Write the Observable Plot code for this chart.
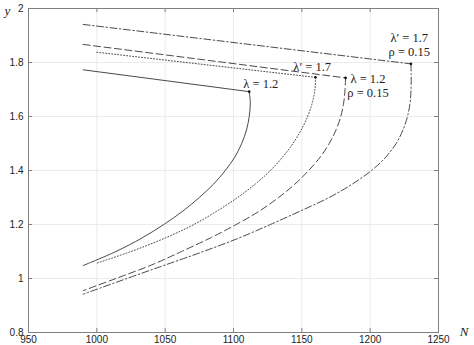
<!DOCTYPE html>
<html>
<head>
<meta charset="utf-8">
<script src="https://cdn.jsdelivr.net/npm/d3@7"></script>
<script src="https://cdn.jsdelivr.net/npm/@observablehq/plot@0.6"></script>
<style>
  html, body { margin: 0; padding: 0; background: #fff; }
  #chart { width: 474px; height: 345px; }
</style>
</head>
<body>
<div id="chart"></div>
<script>
// Axis ticks
const xTicks = [950, 1000, 1050, 1100, 1150, 1200, 1250];
const yTicks = [0.8, 1, 1.2, 1.4, 1.6, 1.8, 2];

// Series 1: λ = 1.2 (solid)
const s1UpperN = [990, 1111.5];
const s1UpperY = [1.773, 1.692];
const s1LowerN = [1111.5, 1112.3, 1111.5, 1109.5, 1106, 1101, 1094, 1085.5, 1075, 1063, 1049, 1033, 1014, 990];
const s1LowerY = [1.692, 1.65, 1.60, 1.55, 1.50, 1.45, 1.40, 1.35, 1.30, 1.25, 1.20, 1.15, 1.10, 1.048];

// Series 2: λ′ = 1.7 (dotted)
const s2UpperN = [1000, 1160];
const s2UpperY = [1.838, 1.745];
const s2LowerN = [1160, 1159.6, 1157.6, 1154.2, 1149.5, 1143.5, 1136, 1127, 1116, 1103, 1088, 1071, 1050, 1025, 1000];
const s2LowerY = [1.745, 1.70, 1.65, 1.60, 1.55, 1.50, 1.45, 1.40, 1.35, 1.30, 1.25, 1.20, 1.15, 1.10, 1.057];

// Series 3: λ = 1.2, ρ = 0.15 (dashed)
const s3UpperN = [990, 1182];
const s3UpperY = [1.867, 1.743];
const s3LowerN = [1182, 1181.6, 1180.6, 1178.5, 1175, 1170, 1163.5, 1155, 1145, 1133, 1119, 1102, 1083, 1062, 1040, 1014, 990];
const s3LowerY = [1.743, 1.70, 1.65, 1.60, 1.55, 1.50, 1.45, 1.40, 1.35, 1.30, 1.25, 1.20, 1.15, 1.10, 1.05, 1.00, 0.955];

// Series 4: λ′ = 1.7, ρ = 0.15 (dash-dot)
const s4UpperN = [990, 1229.8];
const s4UpperY = [1.941, 1.795];
const s4LowerN = [1229.8, 1230, 1229.9, 1229.2, 1227.3, 1224, 1219, 1211.5, 1201, 1187, 1170, 1149, 1127, 1104, 1078, 1050, 1022, 990];
const s4LowerY = [1.795, 1.758, 1.70, 1.65, 1.60, 1.55, 1.50, 1.45, 1.40, 1.35, 1.30, 1.25, 1.20, 1.15, 1.10, 1.05, 1.00, 0.942];

// Annotation labels
const labelText = ["λ = 1.2", "λ′ = 1.7", "λ = 1.2", "ρ = 0.15", "λ′ = 1.7", "ρ = 0.15"];
const labelN = [1120, 1157.6, 1198.4, 1198.4, 1228.6, 1228.6];
const labelY = [1.722, 1.785, 1.739, 1.687, 1.891, 1.839];

const zip = (xs, ys) => xs.map((x, i) => ({x, y: ys[i]}));

const series = [
  {upper: zip(s1UpperN, s1UpperY), lower: zip(s1LowerN, s1LowerY), dash: null},
  {upper: zip(s2UpperN, s2UpperY), lower: zip(s2LowerN, s2LowerY), dash: "1,2"},
  {upper: zip(s3UpperN, s3UpperY), lower: zip(s3LowerN, s3LowerY), dash: "7,3.5"},
  {upper: zip(s4UpperN, s4UpperY), lower: zip(s4LowerN, s4LowerY), dash: "7,2.5,1.5,2.5"}
];

const tips = series.map(s => s.upper[s.upper.length - 1]);
const labels = labelText.map((t, i) => ({t, x: labelN[i], y: labelY[i]}));

const W = 474, H = 345;
const mL = 28, mR = 36, mT = 8, mB = 13;
const pw = W - mL - mR, ph = H - mT - mB;
const lineColor = "#4a4a4a";

const marks = [
  Plot.gridX(xTicks, {stroke: "#ebebeb", strokeOpacity: 1}),
  Plot.gridY(yTicks, {stroke: "#ebebeb", strokeOpacity: 1}),
  Plot.frame({stroke: "#808080"}),
  // inward ticks on all four sides
  Plot.tickX(xTicks, {x: d => d, insetTop: ph - 4, stroke: "#808080"}),
  Plot.tickX(xTicks, {x: d => d, insetBottom: ph - 4, stroke: "#808080"}),
  Plot.tickY(yTicks, {y: d => d, insetRight: pw - 4, stroke: "#808080"}),
  Plot.tickY(yTicks, {y: d => d, insetLeft: pw - 4, stroke: "#808080"}),
  Plot.axisX(xTicks, {tickSize: 0, tickPadding: 3, tickFormat: d => String(d), label: null, fill: "#222", fontSize: 10}),
  Plot.axisY(yTicks, {tickSize: 0, tickPadding: 5, tickFormat: d => String(d), label: null, fill: "#222", fontSize: 10})
];

for (const s of series) {
  const opts = {x: "x", y: "y", stroke: lineColor, strokeWidth: 1};
  if (s.dash) opts.strokeDasharray = s.dash;
  marks.push(Plot.line(s.upper, {...opts}));
  marks.push(Plot.line(s.lower, {...opts, curve: "catmull-rom"}));
}

marks.push(Plot.dot(tips, {x: "x", y: "y", r: 1.3, fill: "#111", stroke: null}));
marks.push(Plot.text(labels, {x: "x", y: "y", text: "t", fontFamily: "Liberation Serif", fontSize: 12.5, fill: "#222"}));
marks.push(Plot.text(["y"], {text: d => d, frameAnchor: "top-left", dx: -24, dy: -3, fontFamily: "Liberation Serif", fontStyle: "italic", fontSize: 13, fill: "#222"}));
marks.push(Plot.text(["N"], {text: d => d, frameAnchor: "bottom-right", dx: 30, dy: 3, fontFamily: "Liberation Serif", fontStyle: "italic", fontSize: 13, fill: "#222"}));

const chart = Plot.plot({
  width: W,
  height: H,
  marginLeft: mL,
  marginRight: mR,
  marginTop: mT,
  marginBottom: mB,
  x: {domain: [950, 1250], label: null},
  y: {domain: [0.8, 2], label: null},
  style: {fontFamily: "Liberation Sans", fontSize: "10px", background: "#fff", overflow: "visible"},
  marks
});
document.getElementById("chart").appendChild(chart);
</script>
</body>
</html>
